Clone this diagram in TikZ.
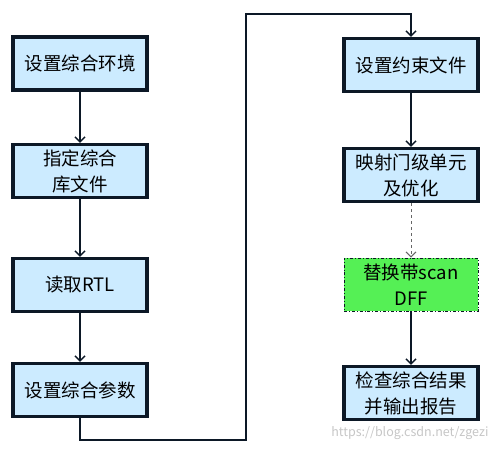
\documentclass[tikz,border=0pt]{standalone}
\usepackage{fontspec}
\setmainfont{Noto Sans CJK SC}
\usepackage{tikz}
\usetikzlibrary{arrows.meta,shadows}
\definecolor{boxblue}{RGB}{204,235,255}
\definecolor{boxgreen}{RGB}{85,240,85}
\definecolor{linenavy}{RGB}{12,24,38}
\tikzset{
  stepbox/.style={draw=linenavy, line width=3.2pt, fill=boxblue,
    minimum width=134pt, minimum height=53pt, align=center,
    font=\fontsize{18.5}{26}\selectfont,
    drop shadow={shadow xshift=1.2pt, shadow yshift=-1.2pt, fill=black, opacity=0.6}},
  greenbox/.style={draw=linenavy, line width=0.8pt, dash dot, fill=boxgreen,
    minimum width=134pt, minimum height=53pt, align=center,
    font=\fontsize{18.5}{26}\selectfont},
  flow/.style={draw=linenavy, line width=1.5pt, -{Straight Barb[length=5pt,width=10pt]}},
  dflow/.style={draw=gray!80!black, line width=1pt, dashed, -{Straight Barb[length=5pt,width=10pt]}}
}
\begin{document}
\begin{tikzpicture}[x=1pt,y=-1pt]
\useasboundingbox (0,0) rectangle (494,451);
% left column
\node[stepbox] (env)  at (80,63.5) {设置综合环境};
\node[stepbox] (lib)  at (80,171)  {指定综合\\库文件};
\node[stepbox] (rtl)  at (80,285)  {读取RTL};
\node[stepbox] (para) at (80,390)  {设置综合参数};
% right column
\node[stepbox]  (cons) at (411,65)   {设置约束文件};
\node[stepbox]  (map)  at (411,175)  {映射门级单元\\及优化};
\node[greenbox] (scan) at (411,284.5) {替换带scan\\DFF};
\node[stepbox]  (rep)  at (411,393)  {检查综合结果\\并输出报告};
% turn points
\coordinate (c1) at (80,440);
\coordinate (c2) at (246,440);
\coordinate (c3) at (246,14);
\coordinate (c4) at (411,14);
\draw[flow] (env) -- (lib);
\draw[flow] (lib) -- (rtl);
\draw[flow] (rtl) -- (para);
\draw[flow] (para.south) -- (c1) -- (c2) -- (c3) -- (c4) -- (cons.north);
\draw[flow] (cons) -- (map);
\draw[dflow] (map) -- (scan);
\draw[flow] (scan) -- (rep);
\node[text=gray!45, font=\fontsize{12.5}{14}\selectfont, anchor=east] (url) at (492,433) {https://blog.csdn.net/zgezi};
\end{tikzpicture}
\end{document}
